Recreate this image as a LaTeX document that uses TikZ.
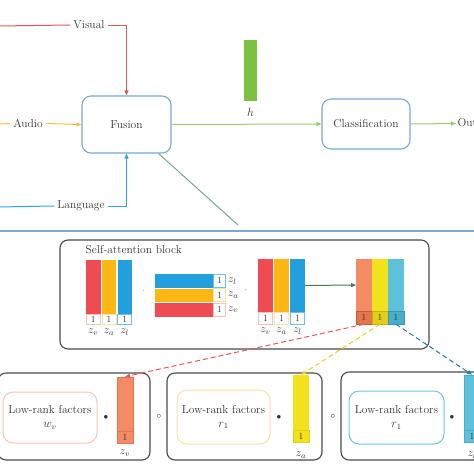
\documentclass[tikz,border=0pt]{standalone}
\usetikzlibrary{arrows.meta,calc}
\definecolor{txt}{HTML}{333333}
\definecolor{cred}{HTML}{EE4B52}
\definecolor{corange}{HTML}{FBB714}
\definecolor{cblue}{HTML}{22A0DE}
\definecolor{rsalmon}{HTML}{F38C64}
\definecolor{rsalmond}{HTML}{E8744C}
\definecolor{ryellow}{HTML}{F2E21C}
\definecolor{ryellowd}{HTML}{E2CF16}
\definecolor{rlblue}{HTML}{5EC0DA}
\definecolor{rlblued}{HTML}{48AFCB}
\definecolor{lred}{HTML}{E9545C}
\definecolor{lorange}{HTML}{F6BC48}
\definecolor{lblue}{HTML}{2EA4DC}
\definecolor{lgreen}{HTML}{9CCB6B}
\definecolor{hgreen}{HTML}{7DC142}
\definecolor{dgreen}{HTML}{74A987}
\definecolor{agreen}{HTML}{3E7F4E}
\definecolor{fblue}{HTML}{79A9CD}
\definecolor{boxgray}{HTML}{4A4A4A}
\definecolor{pale1}{HTML}{F5C4B2}
\definecolor{pale2}{HTML}{F8E2A6}
\definecolor{pale3}{HTML}{6CC3DE}
\tikzset{
  lbl/.style={font=\fontsize{11.5}{13}\selectfont, text=txt, inner sep=1.5pt},
  flbl/.style={lbl, inner xsep=3pt},
  zl/.style={font=\fontsize{11}{12}\selectfont, text=txt, inner sep=0pt},
  procbox/.style={draw=fblue, line width=1.1pt, rounded corners=9pt, font=\fontsize{11.5}{13}\selectfont, text=txt},
  blockbox/.style={draw=boxgray, line width=1.1pt, rounded corners=8pt, inner sep=0pt},
  innerbox/.style={line width=1pt, rounded corners=10pt, font=\fontsize{11.5}{13}\selectfont, text=txt, align=center, inner sep=0pt},
  bar/.style={inner sep=0pt, draw=none},
  cell/.style={inner sep=0pt, fill=white, line width=0.7pt, font=\fontsize{9.5}{10}\selectfont, text=txt},
  fcell/.style={inner sep=0pt, line width=0.5pt, font=\fontsize{9.5}{10}\selectfont, text=txt},
  tip/.style={-{Triangle[length=5pt,width=4pt]}},
  conn/.style={line width=1pt},
  dashconn/.style={line width=1pt, dash pattern=on 5pt off 3pt, -{Triangle[length=5pt,width=4pt]}},
  op/.style={font=\fontsize{9}{10}\selectfont, text=txt, inner sep=0pt}
}
\begin{document}
\begin{tikzpicture}[x=1pt,y=-1pt]
\useasboundingbox (0,0) rectangle (474,474);
\clip (0,0) rectangle (474,474);

% ---------- top part ----------
\node[procbox, minimum width=89pt, minimum height=57pt] (fusion) at (126.5,124.5) {Fusion};
\node[procbox, minimum width=88pt, minimum height=50pt] (classif) at (366,124) {Classification};

\coordinate (vstart) at (-3,26);
\coordinate (astart) at (-3,124);
\coordinate (lstart) at (-3,207);
\node[flbl] (visual) at (89,25) {Visual};
\node[flbl] (audio) at (28,123.5) {Audio};
\node[flbl] (language) at (81,206) {Language};

\draw[conn, lred] (vstart) -- (visual.west);
\draw[conn, lred, tip] (visual.east) -| (fusion.north);
\draw[conn, lorange] (astart) -- (audio.west);
\draw[conn, lorange, tip] (audio.east) -- (fusion.west);
\draw[conn, lblue] (lstart) -- (language.west);
\draw[conn, lblue, tip] (language.east) -| (fusion.south);

\draw[conn, lgreen, tip] (fusion.east) -- (classif.west);
\node[bar, fill=hgreen, minimum width=13pt, minimum height=61pt] (hbar) at (250.5,70.5) {};
\node[lbl] (hlab) at (250.5,112) {$h$};

\node[lbl, anchor=west] (output) at (456,123.5) {Output};
\draw[conn, lgreen, tip] (classif.east) -- (output.west);

\coordinate (dstart) at ($(fusion.south east)+(-13,0)$);
\coordinate (dend) at (238,225);
\draw[conn, dgreen] (dstart) -- (dend);

\coordinate (sepL) at (-2,231);
\coordinate (sepR) at (476,231);
\draw[line width=1.1pt, fblue] (sepL) -- (sepR);

% ---------- self-attention block ----------
\node[blockbox, minimum width=369pt, minimum height=109pt] (sab) at (244.5,294.5) {};
\node[lbl, anchor=west] (sablab) at (84,250) {Self-attention block};

% left matrix
\node[bar, fill=cred, minimum width=14.5pt, minimum height=54pt] (l1) at (93.25,287) {};
\node[bar, fill=corange, minimum width=14.5pt, minimum height=54pt] (l2) at (109,287) {};
\node[bar, fill=cblue, minimum width=14.5pt, minimum height=54pt] (l3) at (124.75,287) {};
\node[cell, draw=pale1, minimum width=14pt, minimum height=10pt] (l1c) at (93.25,319) {1};
\node[cell, draw=pale2, minimum width=14pt, minimum height=10pt] (l2c) at (109,319) {1};
\node[cell, draw=pale3, minimum width=14pt, minimum height=10pt] (l3c) at (124.75,319) {1};
\node[zl] (l1z) at (93.25,332) {$z_v$};
\node[zl] (l2z) at (109,332) {$z_a$};
\node[zl] (l3z) at (124.75,332) {$z_l$};

\node[op] (dotA) at (144,291) {$\cdot$};

% middle matrix
\node[bar, fill=cblue, minimum width=58pt, minimum height=13.5pt] (m1) at (184,280.75) {};
\node[bar, fill=corange, minimum width=58pt, minimum height=13.5pt] (m2) at (184,295.25) {};
\node[bar, fill=cred, minimum width=58pt, minimum height=13.5pt] (m3) at (184,309.75) {};
\node[cell, draw=pale3, minimum width=12.5pt, minimum height=13pt] (m1c) at (219.5,280.75) {1};
\node[cell, draw=pale2, minimum width=12.5pt, minimum height=13pt] (m2c) at (219.5,295.25) {1};
\node[cell, draw=pale1, minimum width=12.5pt, minimum height=13pt] (m3c) at (219.5,309.75) {1};
\node[zl, anchor=west] (m1z) at (228,280.75) {$z_l$};
\node[zl, anchor=west] (m2z) at (228,295.25) {$z_a$};
\node[zl, anchor=west] (m3z) at (228,309.75) {$z_v$};

\node[op] (dotB) at (246,290) {$\cdot$};

% third matrix
\node[bar, fill=cred, minimum width=15pt, minimum height=53pt] (t1) at (265.5,285.5) {};
\node[bar, fill=corange, minimum width=15pt, minimum height=53pt] (t2) at (281.5,285.5) {};
\node[bar, fill=cblue, minimum width=15pt, minimum height=53pt] (t3) at (297.5,285.5) {};
\node[cell, draw=pale1, minimum width=14.5pt, minimum height=12pt] (t1c) at (265.5,318) {1};
\node[cell, draw=pale2, minimum width=14.5pt, minimum height=12pt] (t2c) at (281.5,318) {1};
\node[cell, draw=pale3, minimum width=14.5pt, minimum height=12pt] (t3c) at (297.5,318) {1};
\node[zl] (t1z) at (265.5,331) {$z_v$};
\node[zl] (t2z) at (281.5,331) {$z_a$};
\node[zl] (t3z) at (297.5,331) {$z_l$};

% result matrix
\node[bar, fill=rsalmon, minimum width=15.5pt, minimum height=52pt] (r1) at (364,285) {};
\node[bar, fill=ryellow, minimum width=15.5pt, minimum height=52pt] (r2) at (380,285) {};
\node[bar, fill=rlblue, minimum width=15.5pt, minimum height=52pt] (r3) at (396,285) {};
\node[fcell, fill=rsalmond, draw=rsalmond!80!black, minimum width=15.5pt, minimum height=13pt] (r1c) at (364,317.5) {1};
\node[fcell, fill=ryellowd, draw=ryellowd!85!black, minimum width=15.5pt, minimum height=13pt] (r2c) at (380,317.5) {1};
\node[fcell, fill=rlblued, draw=rlblued!85!black, minimum width=15.5pt, minimum height=13pt] (r3c) at (396,317.5) {1};

\draw[conn, agreen, tip] (t3.east) -- (r1.west);

% ---------- bottom boxes ----------
\node[blockbox, minimum width=152pt, minimum height=87pt] (bx1) at (74,416.5) {};
\node[blockbox, minimum width=155pt, minimum height=87pt] (bx2) at (244.5,416.5) {};
\node[blockbox, minimum width=160pt, minimum height=88pt] (bx3) at (421,416) {};

\node[innerbox, draw=pale1, minimum width=94pt, minimum height=51pt] (in1) at (50,417.5) {Low-rank factors\\[1pt]$w_v$};
\node[innerbox, draw=pale2, minimum width=93pt, minimum height=54pt] (in2) at (223.5,417) {Low-rank factors\\[1pt]$r_1$};
\node[innerbox, draw=pale3, minimum width=95pt, minimum height=53pt] (in3) at (396.5,417.5) {Low-rank factors\\[1pt]$r_1$};

\node[op] (b1dot) at (106,417) {$\bullet$};
\node[op] (b2dot) at (279,417) {$\bullet$};
\node[op] (b3dot) at (452,417) {$\bullet$};
\node[op] (circ1) at (159,416) {$\circ$};
\node[op] (circ2) at (333,416) {$\circ$};

\node[bar, fill=rsalmon, draw=rsalmond, line width=0.6pt, minimum width=16pt, minimum height=54pt] (b1) at (125,404) {};
\node[fcell, fill=rsalmon, draw=rsalmond, minimum width=16pt, minimum height=12pt] (b1c) at (125,437) {1};
\node[zl] (b1z) at (125,453) {$z_v$};

\node[bar, fill=ryellow, minimum width=16pt, minimum height=55pt] (b2) at (301,402.5) {};
\node[fcell, fill=ryellow, draw=ryellowd, minimum width=16pt, minimum height=12pt] (b2c) at (301,436) {1};
\node[zl] (b2z) at (301,455) {$z_a$};

\node[bar, fill=rlblue, draw=rlblued, line width=0.6pt, minimum width=16pt, minimum height=55pt] (b3) at (472,402.5) {};
\node[fcell, fill=rlblue, draw=rlblued, minimum width=16pt, minimum height=12pt] (b3c) at (472,436) {1};
\node[zl] (b3z) at (472,455) {$z_l$};

% dashed connectors
\draw[dashconn, lred] (r1c.south) -- (b1.north);
\draw[dashconn, ryellow!80!orange] (r2c.south) -- (b2.north);
\draw[dashconn, cblue!80!black] (r3c.south) -- (b3.north);
\end{tikzpicture}
\end{document}
